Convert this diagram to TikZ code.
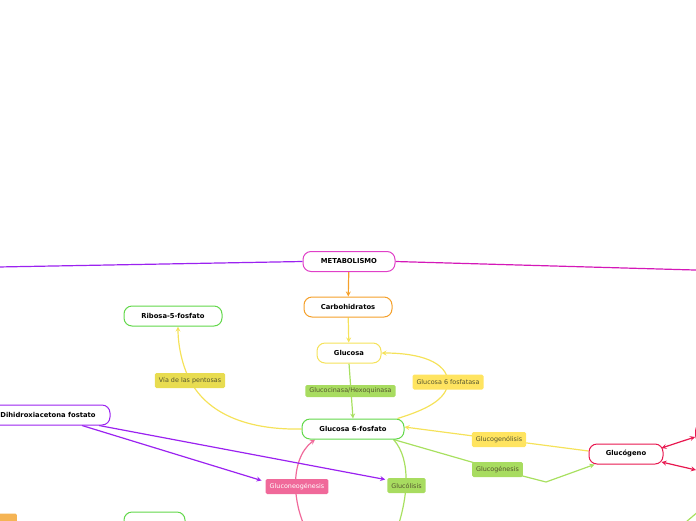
\documentclass[tikz,border=0pt]{standalone}
\usepackage{fontspec}
\setmainfont{DejaVu Sans}
\usetikzlibrary{backgrounds}
\definecolor{metaPink}{HTML}{E040C8}
\definecolor{metaLine}{HTML}{D418B8}
\definecolor{dhapPurple}{HTML}{9B22F0}
\definecolor{carbOrange}{HTML}{F5A02A}
\definecolor{glcYellow}{HTML}{F5E25A}
\definecolor{nodeGreen}{HTML}{62D84A}
\definecolor{lineGreen}{HTML}{A8E060}
\definecolor{lblGreen}{HTML}{A8DC60}
\definecolor{lblYellow}{HTML}{FFE460}
\definecolor{lblYellowDk}{HTML}{E8DC50}
\definecolor{lblPink}{HTML}{F0699A}
\definecolor{glyRed}{HTML}{E8174F}
\definecolor{lblOrange}{HTML}{F5B454}
\definecolor{lblText}{HTML}{55552F}
\tikzset{%
  every topic/.style={
    draw,
    rounded corners=8pt,
    line width=1pt,
    fill=white,
    minimum height=20pt,
    inner xsep=2pt,
    font=\fontsize{6.8}{8}\selectfont\bfseries
  },
  rel label/.style={
    rectangle,
    rounded corners=1.5pt,
    minimum height=15pt,
    inner xsep=4pt,
    inner ysep=0pt,
    text=lblText,
    font=\fontsize{6.4}{7.5}\selectfont
  },
}
\begin{document}
\begin{tikzpicture}[x=1pt,y=-1pt]
    \tikzstyle{link}=[line width=1.2pt,->,>=stealth]
    \clip (0,0) rectangle (696,520);
    \node[every topic, draw=metaPink, minimum width=92pt] (meta) at (349,261.5) {METABOLISMO};
    \node[every topic, draw=carbOrange, minimum width=88pt] (carbo) at (348,307) {Carbohidratos};
    \node[every topic, draw=glcYellow, minimum width=64pt] (glucosa) at (349,353) {Glucosa};
    \node[every topic, draw=nodeGreen, minimum width=102pt] (g6p) at (353,429) {Glucosa 6-fosfato};
    \node[every topic, draw=nodeGreen, minimum width=98pt] (ribosa) at (173,316) {Ribosa-5-fosfato};
    \node[every topic, draw=dhapPurple, minimum width=124pt] (dhap) at (48,415) {Dihidroxiacetona fostato};
    \node[every topic, draw=glyRed, minimum width=74pt] (glucogeno) at (626,454) {Glucógeno};
    \node[every topic, draw=glyRed, minimum width=60pt, anchor=west] (glyA) at (695,433) {};
    \node[every topic, draw=glyRed, minimum width=60pt, anchor=west] (glyB) at (697,472) {};
    \node[every topic, draw=nodeGreen, minimum width=61pt] (lower) at (154.5,522) {};
    \node[rel label, fill=lblOrange, minimum width=30pt, anchor=east] (lowerLbl) at (17,521) {};

    \node[rel label, fill=lblYellowDk] (pentosas) at (190,380.5) {Vía de las pentosas};
    \node[rel label, fill=lblGreen, minimum height=12pt] (hexo) at (350.5,391) {Glucocinasa/Hexoquinasa};
    \node[rel label, fill=lblYellow] (fosfatasa) at (448,382) {Glucosa 6 fosfatasa};
    \node[rel label, fill=lblYellow] (glucogenolisis) at (499,439.5) {Glucogenólisis};
    \node[rel label, fill=lblGreen] (glucogenesis) at (497.5,469.5) {Glucogénesis};
    \node[rel label, fill=lblPink, text=white] (gluconeo) at (297,486.5) {Gluconeogénesis};
    \node[rel label, fill=lblGreen] (glucolisis) at (406.5,485.5) {Glucólisis};

    \coordinate (leftEnd) at (-30,267.5);
    \coordinate (rightEnd) at (730,271);
    \coordinate (neoStart) at (312,540);
    \coordinate (lisisEnd) at (395,535);
    \coordinate (kink) at (546,482);
    \coordinate (tailA) at (686,522);
    \coordinate (tailB) at (720,493);

    \begin{scope}[on background layer]
    \draw[link,-,dhapPurple] (meta.west) -- (leftEnd);
    \draw[link,-,metaLine] (meta.east) -- (rightEnd);
    \draw[link,carbOrange] (meta) -- (carbo);
    \draw[link,glcYellow] (carbo) -- (glucosa);
    \draw[link,lineGreen] (glucosa.south) -- (g6p.north);
    \draw[link,glcYellow] ([xshift=-7pt]g6p.north east) .. controls (425,410) and (447,400) .. (fosfatasa.center)
        .. controls (447,362) and (420,353) .. (glucosa.east);
    \draw[link,glcYellow] (g6p.west) .. controls (255,430) and (210,418) .. (pentosas.center)
        .. controls (182,365) and (178,345) .. ([xshift=5pt]ribosa.south);
    \draw[link,glcYellow] ([yshift=3pt]glucogeno.west) -- ([yshift=2pt]g6p.east);
    \draw[link,lineGreen] ([xshift=-11pt]g6p.south east) -- (glucogenesis.center) -- (kink) -- ([xshift=6pt]glucogeno.south west);
    \draw[link,lblPink] (neoStart) .. controls (292,510) and (288,460) .. ([xshift=-38pt]g6p.south);
    \draw[link,-,lineGreen] ([xshift=-11pt]g6p.south east) .. controls (412,460) and (408,500) .. (lisisEnd);
    \draw[link,dhapPurple] ([xshift=34pt]dhap.south) -- ([xshift=-4pt,yshift=6pt]gluconeo.west);
    \draw[link,dhapPurple] ([xshift=51pt]dhap.south) -- ([xshift=-2pt,yshift=6pt]glucolisis.west);
    \draw[link,<->,glyRed] ([xshift=-2pt,yshift=6pt]glucogeno.east) -- ([yshift=-4pt]glyA.west);
    \draw[link,<->,glyRed] ([xshift=-2pt,yshift=-8pt]glucogeno.east) -- ([xshift=-1pt,yshift=2pt]glyB.west);
    \draw[link,-,lineGreen] (tailA) -- (tailB);
    \end{scope}
\end{tikzpicture}
\end{document}
